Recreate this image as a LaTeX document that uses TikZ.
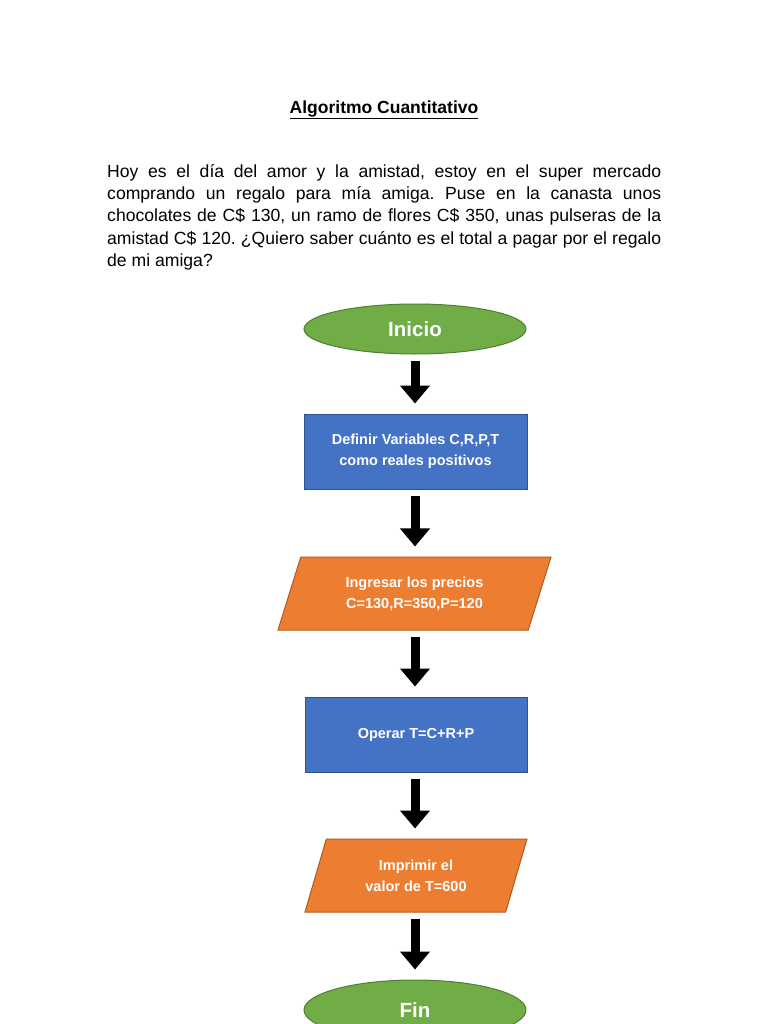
\documentclass[tikz,border=0pt]{standalone}
\usepackage{fontspec}
\setmainfont{Liberation Sans}
\usetikzlibrary{shapes.geometric,arrows.meta}
\definecolor{cgreen}{HTML}{70AD47}
\definecolor{cgreenb}{HTML}{507E32}
\definecolor{cblue}{HTML}{4472C4}
\definecolor{cblueb}{HTML}{2F528F}
\definecolor{corange}{HTML}{ED7D31}
\definecolor{corangeb}{HTML}{AE5A21}
\frenchspacing
\newcommand{\jl}[1]{\makebox[554pt][s]{#1}}
\tikzset{
  term/.style={ellipse,fill=cgreen,draw=cgreenb,line width=1pt,minimum width=222pt,minimum height=50pt,inner sep=0pt,text=white,font=\fontsize{20.5}{24}\selectfont\bfseries},
  proc/.style={rectangle,fill=cblue,draw=cblueb,line width=1pt,minimum width=223pt,minimum height=75pt,text=white,align=center,font=\fontsize{14.5}{21}\selectfont\bfseries},
  io/.style={trapezium,trapezium left angle=56,trapezium right angle=124,trapezium stretches body=true,fill=corange,draw=corangeb,line width=1pt,minimum height=73pt,text=white,align=center,font=\fontsize{14.5}{21}\selectfont\bfseries,inner sep=0pt},
  bigarrow/.style={line width=9pt,-{Triangle[width=29pt,length=18pt]},shorten <=6pt,shorten >=10pt}
}
\begin{document}
\begin{tikzpicture}[x=1pt,y=1pt]
\useasboundingbox (0,0) rectangle (768,-1024);
\fill[white] (0,0) rectangle (768,-1024);
\node[font=\fontsize{17.5}{20}\selectfont\bfseries] (title) at (384,-110) {\underline{Algoritmo Cuantitativo}};
\node[anchor=north west,align=left,inner sep=0pt,font=\frenchspacing\fontsize{17.6}{22.3}\selectfont] (para) at (107,-164) {\jl{Hoy es el día del amor y la amistad, estoy en el super mercado}\\\jl{comprando un regalo para mía amiga. Puse en la canasta unos}\\\jl{chocolates de C\$ 130, un ramo de flores C\$ 350, unas pulseras de la}\\\jl{amistad C\$ 120. ¿Quiero saber cuánto es el total a pagar por el regalo}\\de mi amiga?};
\node[term] (ini) at (415,-329) {Inicio};
\node[proc] (def) at (415.5,-451.5) {Definir Variables C,R,P,T\\como reales positivos};
\node[io,minimum width=273pt] (ing) at (414.5,-593.5) {Ingresar los precios\\C=130,R=350,P=120};
\node[proc,minimum width=222pt] (op) at (416,-734.5) {Operar T=C+R+P};
\node[io,minimum width=222pt] (imp) at (416,-875.5) {Imprimir el\\valor de T=600};
\node[term,minimum height=60pt] (fin) at (415,-1010) {Fin};
\draw[bigarrow] (ini.south) -- (ini.south |- def.north);
\draw[bigarrow] (ini.south |- def.south) -- (ini.south |- ing.north);
\draw[bigarrow] (ini.south |- ing.south) -- (ini.south |- op.north);
\draw[bigarrow] (ini.south |- op.south) -- (ini.south |- imp.north);
\draw[bigarrow] (ini.south |- imp.south) -- (fin.north);
\end{tikzpicture}
\end{document}
